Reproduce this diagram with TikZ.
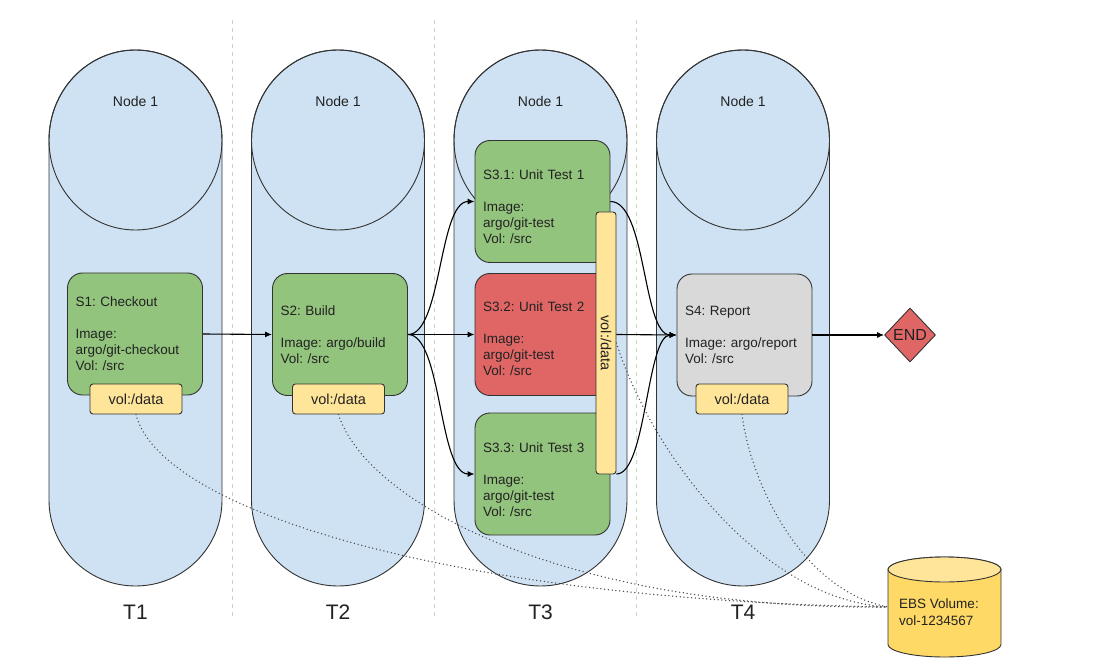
\documentclass[tikz,border=0pt]{standalone}
\usepackage{fontspec}
\setmainfont{Liberation Sans}
\frenchspacing
\usetikzlibrary{shapes.geometric,arrows.meta,calc,backgrounds}
\definecolor{podblue}{HTML}{CFE2F3}
\definecolor{stepgreen}{HTML}{93C47D}
\definecolor{stepred}{HTML}{E06666}
\definecolor{stepgray}{HTML}{D9D9D9}
\definecolor{volyellow}{HTML}{FFE599}
\definecolor{ebsyellow}{HTML}{FFD966}
\definecolor{sepgreen}{HTML}{C4D9B8}
\definecolor{edge}{HTML}{333333}
\definecolor{ink}{HTML}{222222}
\definecolor{dotgray}{HTML}{4A4A4A}
\begin{document}
\frenchspacing
\begin{tikzpicture}[x=1pt,y=-1pt,
  pod/.style={fill=podblue, draw=edge, line width=0.9pt},
  podcircle/.style={draw=edge, line width=0.9pt},
  stepbox/.style={draw=edge, line width=0.9pt, rounded corners=15pt,
    minimum width=135pt, minimum height=122pt, text width=119pt,
    inner xsep=8pt, inner ysep=0pt, align=left, text=ink,
    font=\fontsize{13.5}{16}\selectfont},
  vollabel/.style={fill=volyellow, draw=edge, line width=0.9pt, rounded corners=3pt,
    minimum width=92pt, minimum height=30pt, inner sep=0pt, text=ink,
    font=\fontsize{14.5}{17}\selectfont},
  arr/.style={draw=black, line width=1.1pt, -{Latex[length=7pt,width=6pt]}},
  dotline/.style={draw=dotgray, line width=1.5pt, dash pattern=on 0pt off 3.8pt, line cap=round},
  sepline/.style={draw=sepgreen, line width=1pt, dash pattern=on 4pt off 4pt},
  podtitle/.style={text=ink, font=\fontsize{14}{16}\selectfont},
  tlabel/.style={text=ink, font=\fontsize{21}{24}\selectfont},
  enddiamond/.style={diamond, fill=stepred, draw=edge, line width=0.9pt,
    minimum width=51pt, minimum height=54pt, inner sep=0pt, text=ink,
    font=\fontsize{16}{18}\selectfont},
]
\useasboundingbox (0,0) rectangle (1100,668);

% ---------- background: separators, pods ----------
\begin{scope}[on background layer]
  \fill[white] (0,0) rectangle (1100,668);
  \foreach \sx in {232,434,636} {
    \draw[sepline] (\sx,20) -- (\sx,618);
  }
  \foreach \cx in {135.5,338,540.5,743} {
    \path[pod] (\cx-86.5,140)
      arc[start angle=180, end angle=0, x radius=86.5pt, y radius=90pt]
      -- (\cx+86.5,500)
      arc[start angle=0, end angle=-180, x radius=86.5pt, y radius=86pt]
      -- cycle;
    \draw[podcircle] (\cx,140) ellipse[x radius=86.5pt, y radius=90pt];
  }
\end{scope}

% ---------- pod titles ----------
\node[podtitle] (n1) at (135.5,101) {Node 1};
\node[podtitle] (n2) at (338,101) {Node 1};
\node[podtitle] (n3) at (540.5,101) {Node 1};
\node[podtitle] (n4) at (743,101) {Node 1};
\node[tlabel] (t1) at (135.5,612) {T1};
\node[tlabel] (t2) at (338,612) {T2};
\node[tlabel] (t3) at (540.5,612) {T3};
\node[tlabel] (t4) at (743,612) {T4};

% ---------- steps ----------
\node[stepbox, fill=stepgreen] (s1) at (135,334)
  {S1: Checkout\\[16pt]Image:\\argo/git-checkout\\Vol: /src};
\node[stepbox, fill=stepgreen] (s2) at (340,334.5)
  {S2: Build\\[16pt]Image: argo/build\\Vol: /src};
\node[stepbox, fill=stepgreen] (s31) at (542.5,201.5)
  {\rule{0pt}{21pt}S3.1: Unit Test 1\\[16pt]Image:\\argo/git-test\\Vol: /src};
\node[stepbox, fill=stepred] (s32) at (542.5,334.5)
  {\rule{0pt}{19pt}S3.2: Unit Test 2\\[16pt]Image:\\argo/git-test\\Vol: /src};
\node[stepbox, fill=stepgreen] (s33) at (542.5,474)
  {\rule{0pt}{21pt}S3.3: Unit Test 3\\[16pt]Image:\\argo/git-test\\Vol: /src};
\node[stepbox, fill=stepgray] (s4) at (744.5,335)
  {S4: Report\\[16pt]Image: argo/report\\Vol: /src};

% ---------- volumes ----------
\node[vollabel] (v1) at (136,399) {vol:/data};
\node[vollabel] (v2) at (338.5,399) {vol:/data};
\node[vollabel, rotate=-90, minimum width=262pt, minimum height=20pt] (v3) at (606,343) {vol:/data};
\node[vollabel] (v4) at (742,399) {vol:/data};

% ---------- end ----------
\node[enddiamond] (endnode) at (910,335) {END};

% ---------- EBS volume ----------
\node[minimum width=113pt, minimum height=100pt, inner sep=0pt] (ebs) at (944.5,607) {};
\path[fill=ebsyellow, draw=edge, line width=0.9pt] (888,569.5) -- (888,644.5)
  arc[start angle=180, end angle=360, x radius=56.5pt, y radius=12.5pt]
  -- (1001,569.5)
  arc[start angle=0, end angle=180, x radius=56.5pt, y radius=12.5pt] -- cycle;
\path[fill=volyellow, draw=edge, line width=0.9pt] (944.5,569.5) ellipse[x radius=56.5pt, y radius=12.5pt];
\node[anchor=west, align=left, inner sep=0pt, text=ink, font=\fontsize{13.5}{17}\selectfont]
  (ebstext) at (899,612.5) {EBS Volume:\\vol-1234567};

% ---------- dotted volume links ----------
\begin{scope}[on background layer]
  \draw[dotline] (v1.south) .. controls (160,510) and (450,600) .. (ebs.west);
  \draw[dotline] (v2.south) .. controls (365,500) and (560,610) .. (ebs.west);
  \draw[dotline] (v3.north) .. controls (650,450) and (760,600) .. (ebs.west);
  \draw[dotline] (v4.south) .. controls (750,480) and (800,590) .. (ebs.west);
\end{scope}

% ---------- flow arrows ----------
\draw[arr] (s1.east) -- (s2.west);
\draw[arr] (s2.east) .. controls +(34,0) and +(-36,0) .. (s31.west);
\draw[arr] (s2.east) -- (s32.west);
\draw[arr] (s2.east) .. controls +(34,0) and +(-36,0) .. (s33.west);
\draw[arr] (s31.east) .. controls +(36,0) and +(-34,0) .. (s4.west);
\draw[arr] (s32.east -| v3.north) -- (s4.west);
\draw[arr] (s33.east -| v3.north) .. controls +(30,0) and +(-30,0) .. (s4.west);
\draw[arr] (s4.east) -- (endnode.west);
\end{tikzpicture}
\end{document}
